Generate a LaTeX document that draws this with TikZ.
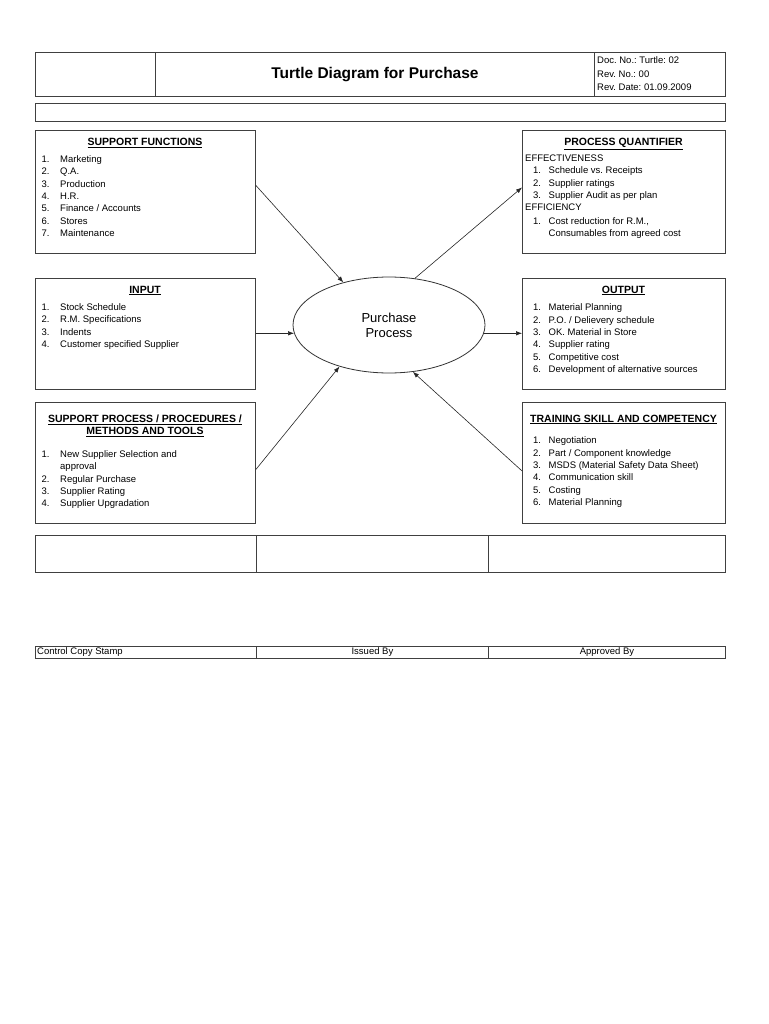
\documentclass[tikz,border=0pt]{standalone}
\usepackage{fontspec}
\setmainfont{Liberation Sans}
\frenchspacing
\usetikzlibrary{positioning,shapes,arrows,arrows.meta}

\begin{document}
\begin{tikzpicture}[x=1pt,y=-1pt,
  box/.style={draw=black!75,line width=0.9pt,anchor=north west,inner sep=0pt},
  head/.style={font=\fontsize{10.5}{12}\selectfont\bfseries,anchor=base,inner sep=0pt},
  item/.style={font=\fontsize{9.5}{11}\selectfont,anchor=base west,inner sep=0pt},
  small/.style={font=\fontsize{9.5}{11}\selectfont,anchor=base west,inner sep=0pt},
  conn/.style={draw=black!85,line width=0.6pt,-{Latex[length=6pt,width=4.5pt]}}]
\useasboundingbox (0,0) rectangle (768,1024);
\fill[white] (0,0) rectangle (768,1024);
% header
\node[box,minimum width=120pt,minimum height=44pt] (hdrL) at (35,52) {};
\node[box,minimum width=439pt,minimum height=44pt,font=\fontsize{15.5}{17}\selectfont\bfseries] (hdrM) at (155,52) {Turtle Diagram for Purchase};
\node[box,minimum width=131pt,minimum height=44pt] (hdrR) at (594,52) {};
\node[small] (docno) at (597,63.1) {Doc. No.: Turtle: 02};
\node[small] (revno) at (597,77.1) {Rev. No.: 00};
\node[small] (revdate) at (597,90.6) {Rev. Date: 01.09.2009};
\node[box,minimum width=690pt,minimum height=18pt] (bar) at (35,103) {};
% six boxes
\node[box,minimum width=220pt,minimum height=123pt] (sf) at (35,130) {};
\node[box,minimum width=203pt,minimum height=123pt] (pq) at (522,130) {};
\node[box,minimum width=220pt,minimum height=111pt] (in) at (35,278) {};
\node[box,minimum width=203pt,minimum height=111pt] (out) at (522,278) {};
\node[box,minimum width=220pt,minimum height=121pt] (sp) at (35,401.5) {};
\node[box,minimum width=203pt,minimum height=121pt] (tr) at (522,401.5) {};
\node[draw=black!80,line width=0.8pt,ellipse,minimum width=192pt,minimum height=96pt,inner sep=0pt,
  align=center,font=\fontsize{13}{15}\selectfont] (pp) at (389,325) {Purchase\\Process};
% support functions
\node[head] (sfh) at (145,145.5) {\underline{SUPPORT FUNCTIONS}};
\foreach \t [count=\i] in {Marketing,Q.A.,Production,H.R.,Finance / Accounts,Stores,Maintenance} {
  \node[item] (sfn\i) at (41.5,{162.6+12.3*(\i-1)}) {\i.};
  \node[item] (sf\i) at (60,{162.6+12.3*(\i-1)}) {\t};
}
% process quantifier
\node[head] (pqh) at (623.5,145.5) {\underline{PROCESS QUANTIFIER}};
\node[item] (eff) at (525,161.6) {EFFECTIVENESS};
\foreach \t [count=\i] in {Schedule vs. Receipts,Supplier ratings,Supplier Audit as per plan} {
  \node[item] (pqn\i) at (533,{174+12.5*(\i-1)}) {\i.};
  \node[item] (pq\i) at (548.5,{174+12.5*(\i-1)}) {\t};
}
\node[item] (effc) at (525,210.5) {EFFICIENCY};
\node[item] (pqn4) at (533,224.6) {1.};
\node[item] (pq4) at (548.5,224.6) {Cost reduction for R.M.,};
\node[item] (pq5) at (548.5,236.6) {Consumables from agreed cost};
% input
\node[head] (inh) at (145,293) {\underline{INPUT}};
\foreach \t [count=\i] in {Stock Schedule,R.M. Specifications,Indents,Customer specified Supplier} {
  \node[item] (inn\i) at (41.5,{310.3+12.5*(\i-1)}) {\i.};
  \node[item] (in\i) at (60,{310.3+12.5*(\i-1)}) {\t};
}
% output
\node[head] (outh) at (623.5,293) {\underline{OUTPUT}};
\foreach \t [count=\i] in {Material Planning,P.O. / Delievery schedule,OK. Material in Store,Supplier rating,Competitive cost,Development of alternative sources} {
  \node[item] (outn\i) at (533,{310.8+12.3*(\i-1)}) {\i.};
  \node[item] (out\i) at (548.5,{310.8+12.3*(\i-1)}) {\t};
}
% support process
\node[head] (sph1) at (145,422.5) {\underline{SUPPORT PROCESS / PROCEDURES /}};
\node[head] (sph2) at (145,434.3) {\underline{METHODS AND TOOLS}};
\node[item] (spn1) at (41.5,457) {1.};
\node[item] (sp1) at (60,457) {New Supplier Selection and};
\node[item] (sp1b) at (60,469.3) {approval};
\foreach \t [count=\i from 2] in {Regular Purchase,Supplier Rating,Supplier Upgradation} {
  \node[item] (spn\i) at (41.5,{482+12.2*(\i-2)}) {\i.};
  \node[item] (sp\i) at (60,{482+12.2*(\i-2)}) {\t};
}
% training
\node[head] (trh) at (623.5,422) {\underline{TRAINING SKILL AND COMPETENCY}};
\foreach \t [count=\i] in {Negotiation,Part / Component knowledge,MSDS (Material Safety Data Sheet),Communication skill,Costing,Material Planning} {
  \node[item] (trn\i) at (533,{443.6+12.4*(\i-1)}) {\i.};
  \node[item] (tr\i) at (548.5,{443.6+12.4*(\i-1)}) {\t};
}
% arrows
\draw[conn] ([yshift=6.5pt]sf.east) -- (pp.137);
\draw[conn] (pp.61) -- ([yshift=4.5pt]pq.west);
\draw[conn] (in.east |- pp.185) -- (pp.185);
\draw[conn] (pp.-5) -- (pp.-5 -| out.west);
\draw[conn] ([yshift=-7pt]sp.east) -- (pp.220);
\draw[conn] ([yshift=-8.5pt]tr.west) -- (pp.297);
% bottom rows
\node[box,minimum width=221pt,minimum height=37pt] (b1) at (35,535) {};
\node[box,minimum width=232pt,minimum height=37pt] (b2) at (256,535) {};
\node[box,minimum width=237pt,minimum height=37pt] (b3) at (488,535) {};
\node[box,minimum width=221pt,minimum height=12.5pt] (s1) at (35,645.5) {};
\node[box,minimum width=232pt,minimum height=12.5pt,font=\fontsize{9.5}{11}\selectfont] (s2) at (256,645.5) {Issued By};
\node[box,minimum width=237pt,minimum height=12.5pt,font=\fontsize{9.5}{11}\selectfont] (s3) at (488,645.5) {Approved By};
\node[small] (stamp) at (37,654.8) {Control Copy Stamp};
\end{tikzpicture}
\end{document}
